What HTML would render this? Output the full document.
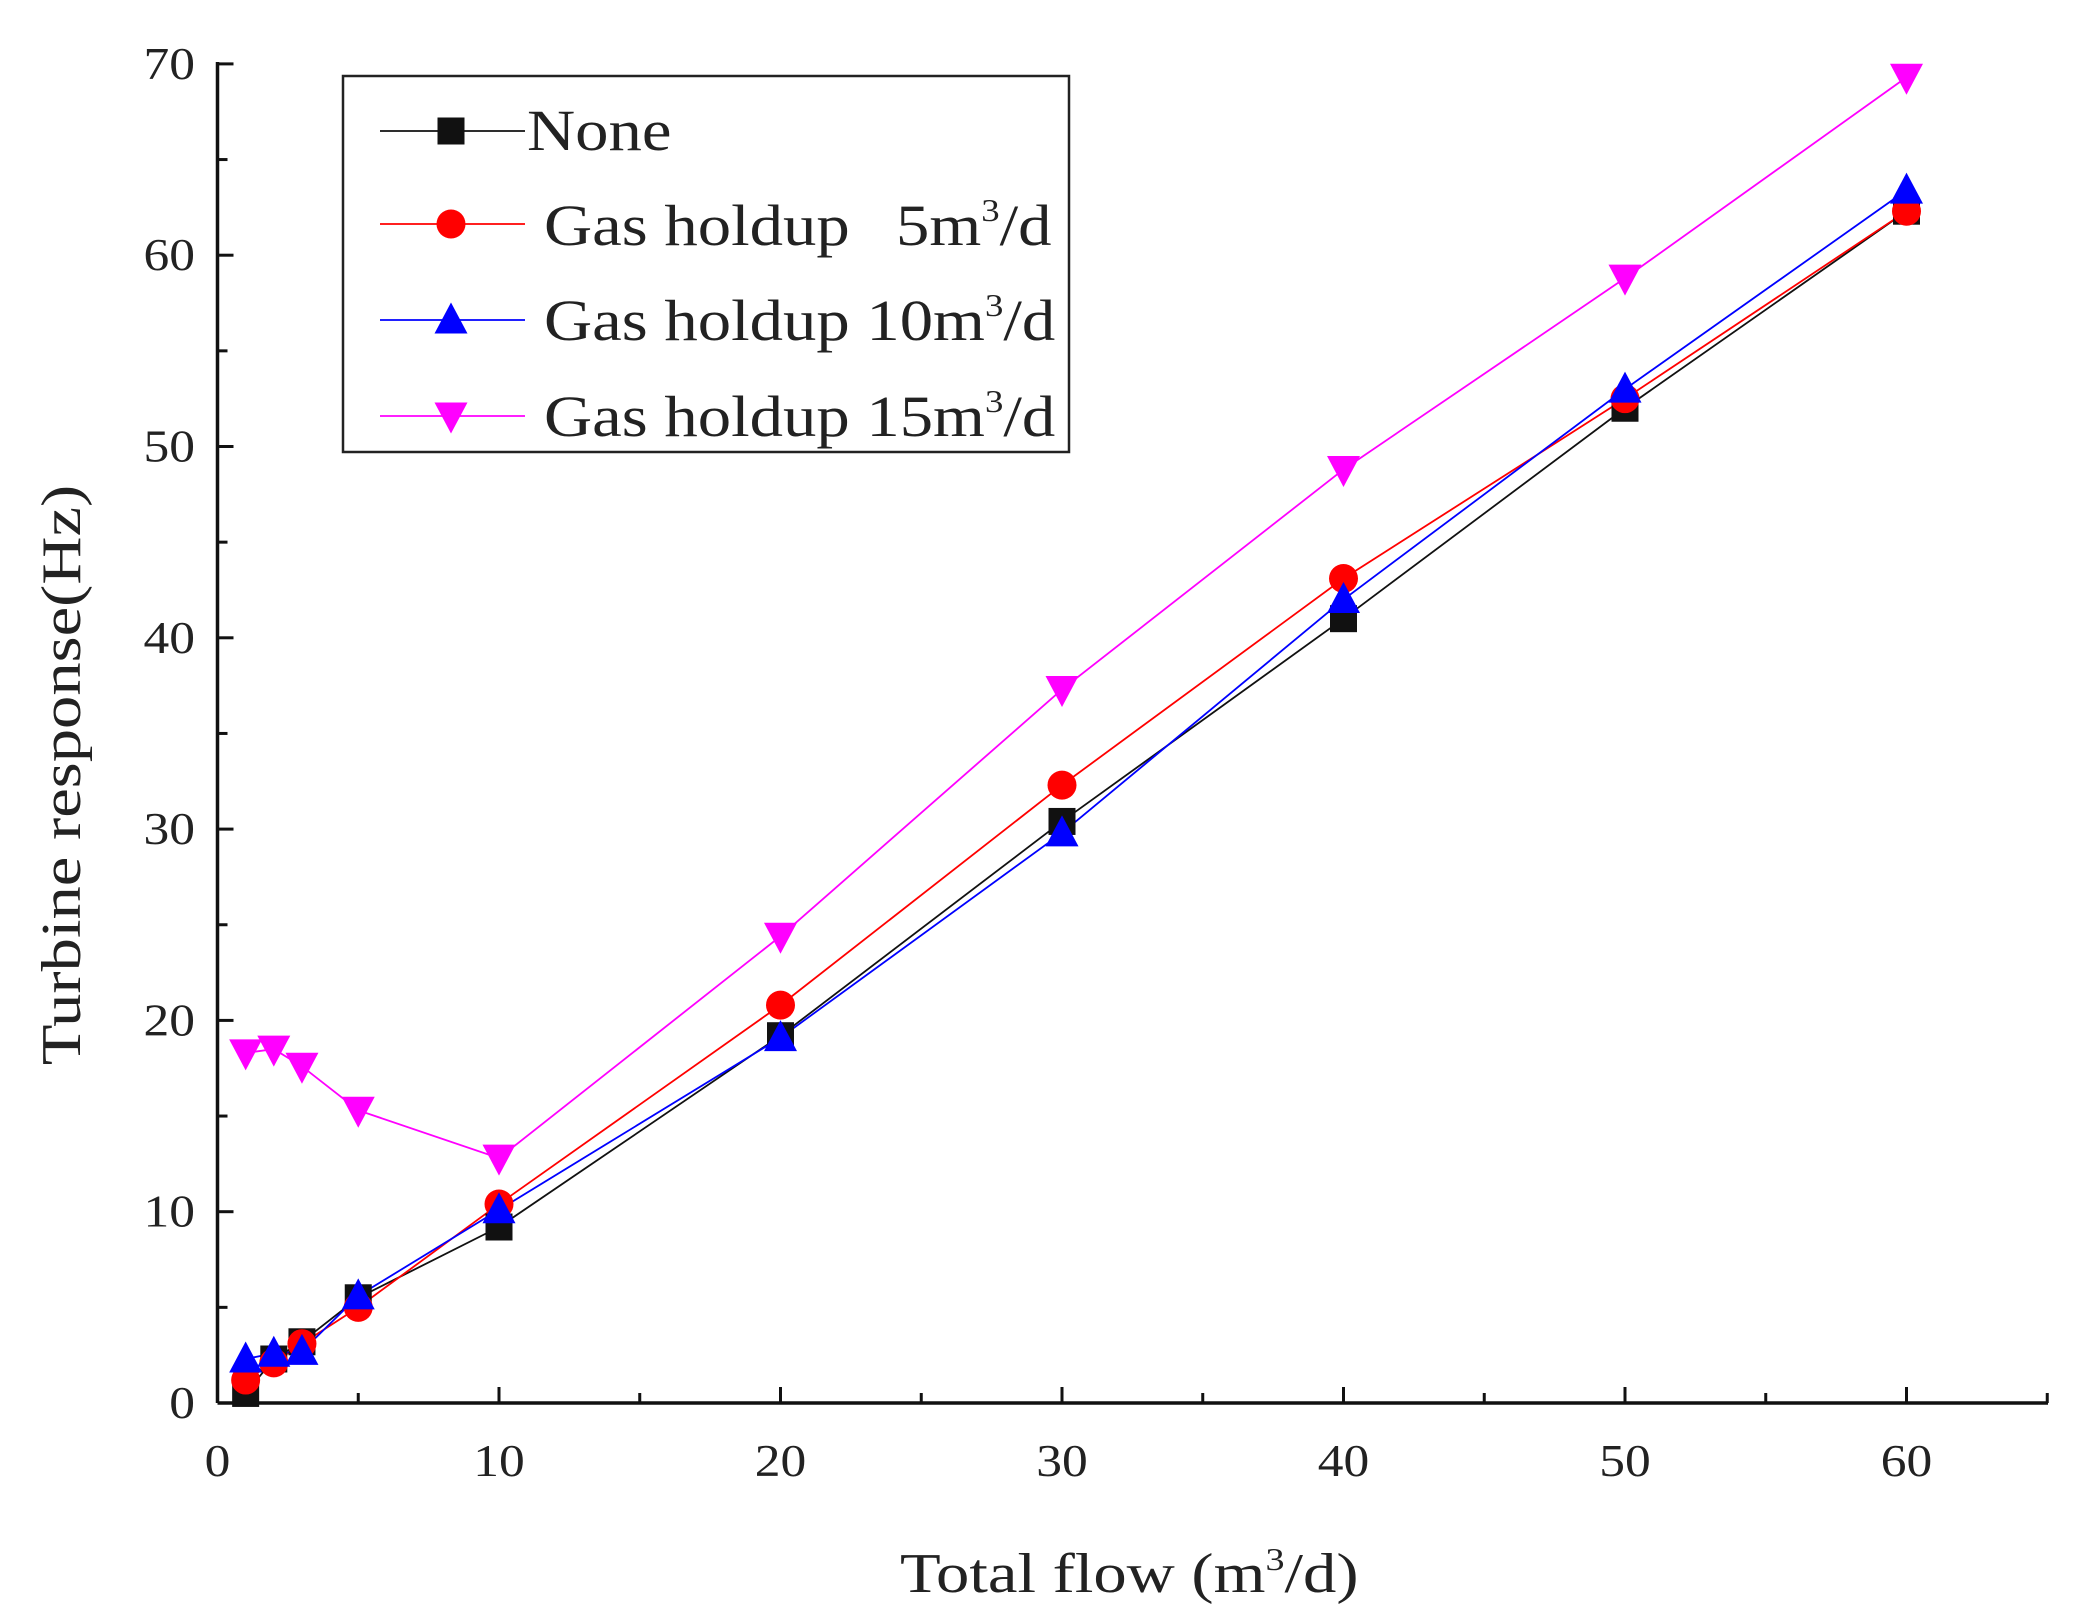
<!DOCTYPE html>
<html><head><meta charset="utf-8"><style>
html,body{margin:0;padding:0;background:#fff;}
svg{display:block;font-family:"Liberation Serif",serif;}
</style></head><body>
<svg id="c" width="2082" height="1620" xmlns="http://www.w3.org/2000/svg">
<rect width="2082" height="1620" fill="#fff"/>
<rect x="343" y="76" width="726" height="376" fill="#fff" stroke="#222" stroke-width="2.5"/>
<g id="plot"></g>
<g fill="#222">
<text transform="translate(900,1592) scale(1.19,1)" font-size="56">Total flow (m<tspan dy="-22" font-size="32">3</tspan><tspan dy="22">/d)</tspan></text>
<text transform="translate(80,775) rotate(-90) scale(1.19,1)" font-size="56" text-anchor="middle">Turbine response(Hz)</text>
<g font-size="58">
<text transform="translate(527,150) scale(1.15,1)">None</text>
<text transform="translate(544,245) scale(1.15,1)">Gas holdup</text>
<text transform="translate(896,245) scale(1.15,1)">5m<tspan dy="-24" font-size="32">3</tspan><tspan dy="24">/d</tspan></text>
<text transform="translate(544,340) scale(1.15,1)">Gas holdup 10m<tspan dy="-24" font-size="32">3</tspan><tspan dy="24">/d</tspan></text>
<text transform="translate(544,436) scale(1.15,1)">Gas holdup 15m<tspan dy="-24" font-size="32">3</tspan><tspan dy="24">/d</tspan></text>
</g>
</g>
</svg>
<script>
const g=document.getElementById('plot');
const X=v=>217.5+v*28.15, Y=v=>1403-v*19.13;
let s='';
s+=`<line x1="217.5" y1="1403" x2="2048" y2="1403" stroke="#111" stroke-width="3.5"/>`;
s+=`<line x1="217.5" y1="62" x2="217.5" y2="1403" stroke="#111" stroke-width="3.5"/>`;
for(let v=5;v<=65;v+=5){const m=v%10==0;s+=`<line x1="${X(v)}" y1="1403" x2="${X(v)}" y2="${1403-(m?16:10)}" stroke="#111" stroke-width="3"/>`;}
for(let v=0;v<=70;v+=5){const m=v%10==0;s+=`<line x1="217.5" y1="${Y(v)}" x2="${217.5+(m?16:10)}" y2="${Y(v)}" stroke="#111" stroke-width="3"/>`;}
for(let v=0;v<=60;v+=10)s+=`<text transform="translate(${X(v)},1476) scale(1.12,1)" font-size="46" text-anchor="middle" fill="#222">${v}</text>`;
for(let v=0;v<=70;v+=10)s+=`<text transform="translate(195,${Y(v)+15}) scale(1.12,1)" font-size="46" text-anchor="end" fill="#222">${v}</text>`;
const xs=[1,2,3,5,10,20,30,40,50,60];
const S=[
{c:'#111',m:'sq',d:[0.5,2.3,3.2,5.5,9.2,19.2,30.4,41,52,62.3]},
{c:'#ff0000',m:'ci',d:[1.2,2.1,3.1,5,10.4,20.8,32.3,43.1,52.5,62.3]},
{c:'#0000ff',m:'up',d:[2.3,2.6,2.7,5.6,10.1,19.1,29.8,42,53,63.4]},
{c:'#ff00ff',m:'dn',d:[18.3,18.5,17.6,15.3,12.8,24.4,37.3,48.8,58.8,69.3]}];
function mk(t,x,y,c){const r=14.5;
 if(t=='sq')return `<rect x="${x-r+1}" y="${y-r+1}" width="${2*r-2}" height="${2*r-2}" fill="${c}"/>`;
 if(t=='ci')return `<circle cx="${x}" cy="${y}" r="${r}" fill="${c}"/>`;
 if(t=='up')return `<polygon points="${x},${y-r-3} ${x-r-2},${y+r-1} ${x+r+2},${y+r-1}" fill="${c}"/>`;
 return `<polygon points="${x},${y+r+3} ${x-r-2},${y-r+1} ${x+r+2},${y-r+1}" fill="${c}"/>`;}
S.forEach(o=>{s+=`<polyline fill="none" stroke="${o.c}" stroke-width="1.8" points="${xs.map((x,i)=>X(x)+','+Y(o.d[i])).join(' ')}"/>`;});
S.forEach(o=>{xs.forEach((x,i)=>s+=mk(o.m,X(x),Y(o.d[i]),o.c));});
const ly=[131,224,320,416];
S.forEach((o,i)=>{s+=`<line x1="380" y1="${ly[i]}" x2="525" y2="${ly[i]}" stroke="${o.c}" stroke-width="1.8"/>`+mk(o.m,451,ly[i],o.c);});
g.innerHTML=s;
</script>
</body></html>
